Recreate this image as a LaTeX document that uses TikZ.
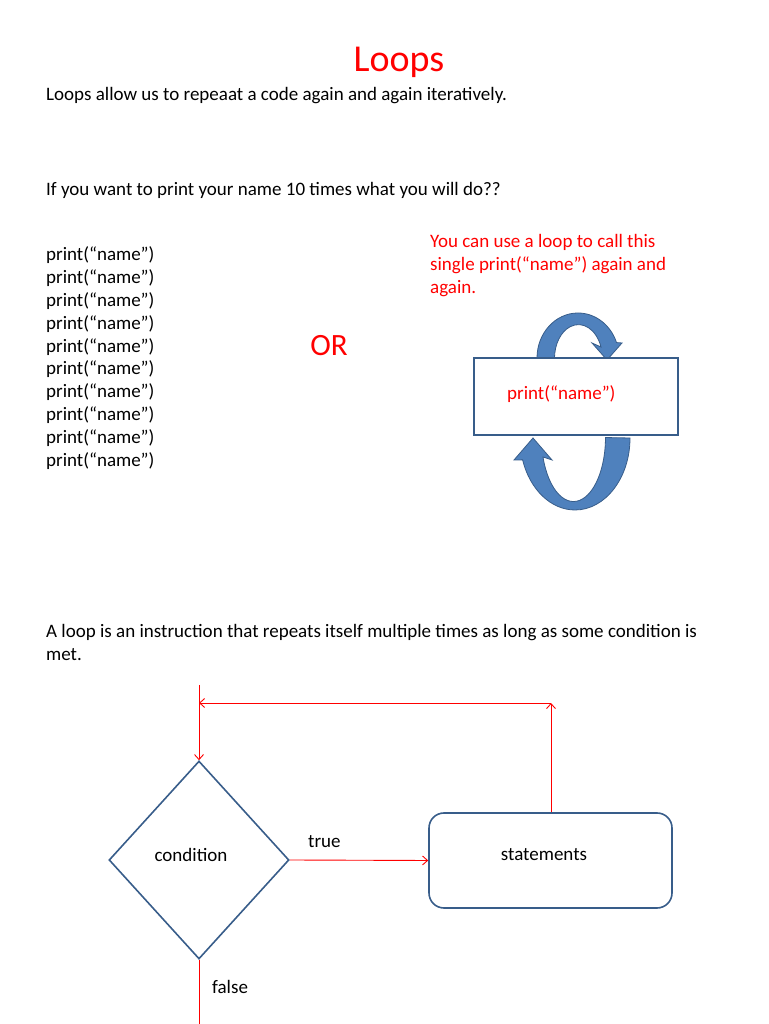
\documentclass[tikz,border=0pt]{standalone}
\usepackage{fontspec}
\setmainfont{Carlito}
\usetikzlibrary{shapes.geometric,arrows.meta}
\definecolor{myred}{RGB}{255,0,0}
\definecolor{bfill}{RGB}{79,129,189}
\definecolor{bedge}{RGB}{56,93,138}
\tikzset{
  txt/.style={anchor=base west,inner sep=0,font=\fontsize{19}{22}\selectfont},
  redtxt/.style={txt,text=myred},
  ribbon/.style={fill=bfill,draw=bedge,line width=0.8pt},
  flow/.style={draw=bedge,line width=1.6pt},
  conn/.style={draw=myred,line width=0.9pt,-{Straight Barb[length=5pt,width=9pt]}},
}
\begin{document}
\begin{tikzpicture}[x=1pt,y=1pt]
\useasboundingbox (0,0) rectangle (768,1024);
\node[font=\fontsize{38}{42}\selectfont,text=myred] (title) at (399,962) {Loops};
\node[txt] (l1) at (46,923.5) {Loops allow us to repeaat a code again and again iteratively.};
\node[txt] (l2) at (46,828.5) {If you want to print your name 10 times what you will do??};
\foreach \i in {0,...,9}{
  \node[txt] (p\i) at (46,{1024-260.5-22.9*\i}) {print(“name”)};
}
\node[font=\fontsize{31}{34}\selectfont,text=myred] (or) at (329,678) {OR};
\node[redtxt] (r1) at (430,776.5) {You can use a loop to call this};
\node[redtxt] (r2) at (430,753.5) {single print(“name”) again and};
\node[redtxt] (r3) at (430,730.5) {again.};
% ribbons
\path[ribbon] (537,666) arc[start angle=180,end angle=20,x radius=41,y radius=45]
  -- (622,681) -- (607,664) -- (592,681) -- (601,677)
  arc[start angle=20,end angle=180,x radius=24,y radius=34] -- cycle;
\path[ribbon] (630,586) arc[start angle=0,end angle=-162.3,x radius=55,y radius=72]
  -- (514,564) -- (533,586) -- (552,564) -- (543,567)
  arc[start angle=-162.3,end angle=0,x radius=32,y radius=64] -- cycle;
\node[draw=bedge,fill=white,line width=1.2pt,minimum width=204pt,minimum height=77pt,inner sep=0] (box) at (576,627.5) {};
\node[redtxt] (bt) at (507,624.5) {print(“name”)};
\node[txt] (a1) at (46,386.5) {A loop is an instruction that repeats itself multiple times as long as some condition is};
\node[txt] (a2) at (46,363.5) {met.};
% flowchart
\node[flow,diamond,minimum width=180pt,minimum height=198pt,inner sep=0] (cond) at (199,164) {};
\node[txt,anchor=center] (ct) at (191,169) {condition};
\node[flow,rounded corners=15pt,minimum width=243pt,minimum height=95pt,inner sep=0] (stm) at (550.5,163.5) {};
\node[txt,anchor=center] (st) at (544,169) {statements};
\coordinate (ctop) at (199,339);
\coordinate (cor) at (199,321);
\coordinate (sup) at (551,321);
\coordinate (fend) at (199,0);
\draw[conn] (cond.east) -- (stm.west);
\node[txt] (tt) at (308,176) {true};
\draw[conn] (stm.north -| sup) -- (sup);
\draw[conn] (sup) -- (cor);
\draw[conn] (ctop) -- (cond.north);
\draw[draw=myred,line width=0.9pt] (cond.south) -- (fend);
\node[txt] (ff) at (212,30) {false};
\end{tikzpicture}
\end{document}
